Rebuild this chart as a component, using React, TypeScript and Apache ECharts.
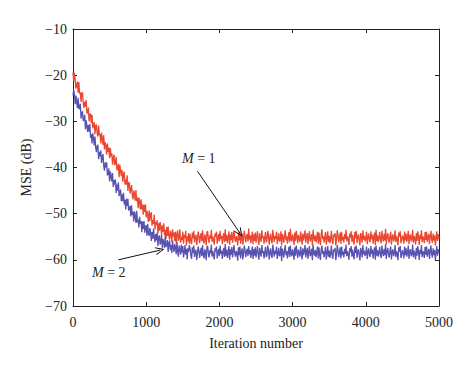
import React, { useEffect, useRef } from "react";
import * as echarts from "echarts";

const STEP = 10;
const X_TICKS = [0, 1000, 2000, 3000, 4000, 5000];
const Y_TICKS = [-70, -60, -50, -40, -30, -20, -10];

// M = 1 (red), MSE in dB sampled every 10 iterations (0 .. 5000)
const mseM1 = [
  -19.4, -21.3, -19.5, -21.0, -22.9, -22.2, -21.4, -23.8, -21.5, -24.0,
  -23.7, -25.8, -23.8, -23.8, -26.1, -27.1, -25.8, -26.8, -25.4, -28.3,
  -28.1, -27.0, -30.0, -28.6, -28.3, -30.4, -28.6, -31.5, -30.7, -30.2,
  -32.8, -30.9, -30.7, -32.6, -33.3, -30.9, -33.0, -32.8, -34.8, -32.5,
  -33.7, -35.1, -33.0, -36.1, -34.5, -35.3, -37.2, -34.8, -36.6, -35.7,
  -38.0, -35.8, -37.6, -36.9, -39.4, -37.8, -37.2, -39.5, -39.1, -37.7,
  -40.6, -40.3, -39.2, -42.1, -39.4, -40.8, -41.9, -40.5, -43.1, -41.6,
  -40.9, -43.7, -42.6, -43.7, -41.7, -45.1, -43.3, -43.3, -45.6, -44.9,
  -43.8, -46.0, -46.9, -45.0, -45.7, -47.2, -44.9, -47.3, -46.5, -48.8,
  -46.5, -47.4, -49.1, -46.9, -49.1, -48.0, -50.2, -48.1, -49.6, -48.0,
  -50.8, -49.4, -50.3, -51.8, -49.3, -51.6, -50.1, -49.7, -52.6, -51.4,
  -52.2, -50.2, -53.4, -51.8, -52.4, -51.4, -54.3, -52.1, -53.7, -51.8,
  -53.0, -54.6, -52.5, -53.9, -52.1, -54.7, -53.5, -55.5, -52.9, -54.8,
  -52.8, -54.8, -55.6, -53.7, -54.4, -56.1, -53.4, -55.0, -54.1, -55.9,
  -53.9, -56.5, -54.5, -53.6, -55.9, -55.2, -53.4, -56.3, -55.0, -55.7,
  -53.9, -56.5, -54.6, -55.3, -53.7, -56.9, -54.9, -56.0, -54.2, -56.5,
  -54.4, -55.9, -56.6, -54.1, -55.3, -53.7, -56.2, -55.0, -54.6, -56.8,
  -55.5, -53.9, -54.8, -56.4, -55.1, -54.2, -56.0, -53.6, -55.7, -56.5,
  -54.5, -55.2, -56.9, -54.0, -53.8, -55.6, -56.3, -54.7, -55.4, -53.5,
  -56.1, -54.9, -55.8, -56.7, -54.3, -55.0, -53.9, -56.5, -55.3, -54.4,
  -56.0, -53.7, -55.5, -54.8, -56.6, -55.1, -54.2, -56.2, -53.4, -55.9,
  -54.6, -56.4, -55.2, -53.8, -56.8, -54.5, -55.7, -54.0, -56.3, -55.0,
  -53.6, -55.4, -56.1, -54.9, -55.3, -56.9, -54.1, -55.8, -53.9, -56.5,
  -55.1, -54.3, -56.7, -55.5, -53.7, -54.8, -56.2, -55.0, -54.4, -56.0,
  -53.2, -55.6, -54.7, -56.4, -55.2, -53.9, -56.6, -54.5, -55.9, -54.1,
  -56.3, -55.0, -53.8, -55.7, -56.8, -54.2, -55.4, -56.1, -53.6, -55.3,
  -54.9, -56.5, -55.1, -54.0, -56.2, -55.8, -53.7, -54.6, -56.7, -55.2,
  -54.3, -55.9, -56.4, -53.5, -55.0, -56.1, -54.8, -55.5, -53.9, -56.6,
  -55.4, -54.2, -56.0, -55.7, -53.8, -56.9, -54.4, -55.1, -56.3, -54.7,
  -53.6, -55.8, -54.9, -56.5, -55.2, -54.0, -56.2, -53.3, -55.6, -56.0,
  -54.5, -55.3, -56.8, -54.1, -55.9, -53.7, -55.0, -56.4, -54.6, -55.5,
  -56.1, -53.9, -55.4, -56.7, -54.3, -55.8, -54.8, -53.6, -56.3, -55.1,
  -54.2, -56.6, -55.0, -53.8, -56.0, -55.6, -54.4, -56.9, -53.5, -55.3,
  -55.9, -54.7, -56.2, -55.2, -53.9, -56.5, -54.1, -55.7, -56.8, -54.6,
  -53.4, -55.5, -54.9, -56.3, -55.1, -54.0, -56.7, -55.4, -53.8, -56.1,
  -54.8, -56.4, -55.3, -53.7, -55.9, -56.6, -54.5, -55.0, -54.2, -56.9,
  -55.6, -53.6, -54.7, -56.2, -55.2, -54.1, -56.5, -53.9, -55.8, -55.0,
  -56.3, -54.4, -55.5, -53.5, -56.0, -54.9, -55.7, -56.8, -54.3, -55.2,
  -53.8, -56.1, -54.6, -55.9, -56.7, -54.0, -55.3, -53.7, -56.4, -55.1,
  -54.5, -55.8, -56.9, -54.2, -55.0, -56.3, -53.6, -55.6, -54.8, -56.0,
  -55.4, -53.9, -56.6, -55.1, -54.3, -55.7, -56.2, -53.8, -55.5, -54.6,
  -56.5, -55.0, -54.1, -56.8, -53.5, -55.9, -54.7, -56.1, -55.3, -54.0,
  -55.7, -56.4, -53.7, -55.2, -56.0, -54.4, -55.8, -53.3, -56.6, -54.9,
  -54.2, -55.6, -56.3, -54.8, -53.9, -56.7, -55.1, -54.5, -56.0, -55.4,
  -53.6, -56.2, -54.9, -55.5, -56.9, -54.1, -55.0, -53.8, -56.4, -55.7,
  -54.7, -55.3, -56.5, -53.9, -55.8, -54.3, -56.1, -55.2, -53.7, -56.6,
  -55.0, -54.5, -56.0, -55.6, -53.5, -56.3, -54.8, -55.4, -56.7, -54.2,
  -55.9, -53.8, -55.1, -56.8, -54.6, -55.5, -53.6, -56.2, -54.9, -55.3,
  -56.4, -54.0, -55.7, -53.9, -56.1, -55.2, -54.4, -56.6, -55.0, -53.7,
  -55.6, -56.3, -54.3, -55.8, -54.7, -56.9, -55.3, -53.8, -55.9, -54.5,
  -55.4,
];

// M = 2 (blue)
const mseM2 = [
  -24.4, -23.1, -24.2, -26.3, -24.4, -25.8, -27.1, -24.9, -27.4, -26.8,
  -26.2, -29.4, -28.2, -27.8, -29.9, -29.7, -28.6, -31.7, -29.8, -30.9,
  -32.3, -30.8, -32.2, -30.6, -33.6, -32.8, -34.8, -32.6, -33.6, -35.2,
  -33.3, -35.7, -36.7, -35.3, -35.1, -38.2, -36.6, -37.6, -36.3, -39.0,
  -37.9, -37.1, -39.7, -40.7, -38.9, -40.0, -38.9, -41.7, -41.3, -40.2,
  -43.0, -40.9, -41.8, -43.0, -41.2, -44.2, -42.7, -43.7, -42.6, -45.5,
  -43.7, -45.0, -43.2, -46.2, -45.3, -44.8, -47.3, -45.8, -47.3, -45.5,
  -48.0, -47.0, -49.1, -46.8, -48.3, -46.8, -49.3, -48.9, -48.3, -50.6,
  -48.2, -50.3, -49.6, -51.7, -49.5, -50.4, -52.0, -49.4, -51.9, -51.3,
  -53.0, -50.7, -52.2, -51.6, -54.0, -51.7, -53.3, -51.6, -54.1, -52.9,
  -52.5, -54.8, -52.2, -54.2, -54.8, -53.1, -54.0, -55.9, -54.0, -55.4,
  -53.2, -55.1, -56.2, -54.4, -55.8, -54.1, -57.0, -55.1, -54.7, -56.7,
  -56.1, -54.6, -57.4, -55.5, -56.1, -57.4, -54.8, -57.2, -56.8, -55.7,
  -58.3, -56.4, -55.8, -57.9, -56.8, -58.5, -55.8, -57.4, -58.3, -56.6,
  -57.3, -58.8, -56.1, -58.2, -59.3, -56.9, -57.7, -58.9, -56.7, -58.4,
  -57.0, -59.5, -58.4, -56.8, -58.9, -57.6, -59.9, -57.5, -58.3, -56.8,
  -57.6, -59.1, -59.8, -57.3, -58.5, -56.9, -59.4, -58.2, -57.8, -60.0,
  -58.7, -57.1, -58.0, -59.6, -58.3, -57.4, -59.2, -56.8, -58.9, -59.7,
  -57.7, -58.4, -60.1, -57.2, -57.0, -58.8, -59.5, -57.9, -58.6, -56.7,
  -59.3, -58.1, -59.0, -59.9, -57.5, -58.2, -57.1, -59.7, -58.5, -57.6,
  -59.2, -56.9, -58.7, -58.0, -59.8, -58.3, -57.4, -59.4, -56.6, -59.1,
  -57.8, -59.6, -58.4, -57.0, -60.0, -57.7, -58.9, -57.2, -59.5, -58.2,
  -56.8, -58.6, -59.3, -58.1, -58.5, -60.2, -57.3, -59.0, -57.1, -59.7,
  -58.3, -57.5, -59.9, -58.7, -56.9, -58.0, -59.4, -58.2, -57.6, -59.2,
  -57.0, -58.8, -57.9, -59.6, -58.4, -57.1, -59.8, -57.7, -59.1, -57.3,
  -59.5, -58.2, -57.0, -58.9, -60.0, -57.4, -58.6, -59.3, -56.8, -58.5,
  -58.1, -59.7, -58.3, -57.2, -59.4, -59.0, -56.9, -57.8, -59.9, -58.4,
  -57.5, -59.1, -59.6, -56.7, -58.2, -59.3, -58.0, -58.7, -57.1, -59.8,
  -58.6, -57.4, -59.2, -58.9, -57.0, -60.3, -57.6, -58.3, -59.5, -57.9,
  -56.8, -59.0, -58.1, -59.7, -58.4, -57.2, -59.4, -56.9, -58.8, -59.2,
  -57.7, -58.5, -60.0, -57.3, -59.1, -56.9, -58.2, -59.6, -57.8, -58.7,
  -59.3, -57.1, -58.6, -59.9, -57.5, -59.0, -58.0, -56.8, -59.5, -58.3,
  -57.4, -59.8, -58.2, -57.0, -59.2, -58.8, -57.6, -60.1, -56.7, -58.5,
  -59.1, -57.9, -59.4, -58.4, -57.1, -59.7, -57.3, -58.9, -60.0, -57.8,
  -56.9, -58.7, -58.1, -59.5, -58.3, -57.2, -59.9, -58.6, -57.0, -59.3,
  -58.0, -59.6, -58.5, -56.9, -59.1, -59.8, -57.7, -58.2, -57.4, -60.1,
  -58.8, -56.8, -57.9, -59.4, -58.4, -57.3, -59.7, -57.1, -59.0, -58.2,
  -59.5, -57.6, -58.7, -56.7, -59.2, -58.1, -58.9, -60.0, -57.5, -58.4,
  -57.0, -59.3, -57.8, -59.1, -59.9, -57.2, -58.5, -56.9, -59.6, -58.3,
  -57.7, -59.0, -60.1, -57.4, -58.2, -59.5, -56.8, -58.8, -58.0, -59.2,
  -58.6, -57.1, -59.8, -58.3, -57.5, -58.9, -59.4, -57.0, -58.7, -57.8,
  -59.7, -58.2, -57.3, -60.0, -56.9, -59.1, -57.9, -59.3, -58.5, -57.2,
  -58.9, -59.6, -56.9, -58.4, -59.2, -57.6, -59.0, -56.6, -59.8, -58.1,
  -57.4, -58.8, -59.5, -58.0, -57.1, -59.9, -58.3, -57.7, -59.2, -58.6,
  -56.8, -59.4, -58.1, -58.7, -60.1, -57.3, -58.2, -57.0, -59.6, -58.9,
  -57.9, -58.5, -59.7, -57.1, -59.0, -57.5, -59.3, -58.4, -56.9, -59.8,
  -58.2, -57.7, -59.2, -58.8, -56.7, -59.5, -58.0, -58.6, -59.9, -57.4,
  -59.1, -57.0, -58.3, -60.0, -57.8, -58.7, -56.8, -59.4, -58.1, -58.5,
  -59.6, -57.2, -58.9, -57.1, -59.3, -58.4, -57.6, -59.8, -58.2, -56.9,
  -58.8, -59.5, -57.5, -59.0, -57.9, -60.1, -58.5, -57.0, -59.1, -57.7,
  -58.6,
];

// annotation arrows in data coordinates: [iteration, dB]
const ARROW_M1 = [[1700, -40.8], [2280, -54.2]];
const ARROW_M2 = [[620, -60.0], [1190, -57.9]];

const FONT = "'Liberation Serif', 'DejaVu Serif', serif";
const RED = "#eb4630";
const BLUE = "#5852b0";
const ARROW_HEAD = "path://M0,10 L5,0 L10,10 L8.6,10 L5,2.6 L1.4,10 Z";

export default function App() {
  const ref = useRef<HTMLDivElement>(null);

  useEffect(() => {
    if (!ref.current) return;
    const chart = echarts.init(ref.current, null, { renderer: "svg" });
    const minus = (v: number) => String(v).replace("-", "\u2212");
    const iters = mseM1.map((_, i) => i * STEP);
    const arrowLine = (pts: number[][]) => [
      { coord: pts[0], symbol: "none" },
      { coord: pts[1], symbol: ARROW_HEAD, symbolSize: [8, 9] },
    ];
    const axisCommon = {
      axisLine: { onZero: false, lineStyle: { color: "#222", width: 1 } },
      axisTick: { inside: true, length: 4, lineStyle: { color: "#222" } },
      splitLine: { show: false },
    };

    chart.setOption({
      animation: false,
      backgroundColor: "#ffffff",
      textStyle: { fontFamily: FONT },
      grid: { left: 73, right: 35, top: 29, bottom: 64 },
      xAxis: [
        {
          type: "value",
          min: X_TICKS[0],
          max: X_TICKS[X_TICKS.length - 1],
          interval: 1000,
          name: "Iteration number",
          nameLocation: "middle",
          nameGap: 30,
          nameTextStyle: { fontFamily: FONT, fontSize: 14, color: "#222" },
          ...axisCommon,
          axisLabel: {
            fontFamily: FONT,
            fontSize: 14,
            color: "#222",
            margin: 9,
            formatter: (v: number) => String(v),
          },
        },
        {
          type: "value",
          position: "top",
          min: X_TICKS[0],
          max: X_TICKS[X_TICKS.length - 1],
          interval: 1000,
          ...axisCommon,
          axisLabel: { show: false },
        },
      ],
      yAxis: [
        {
          type: "value",
          min: Y_TICKS[0],
          max: Y_TICKS[Y_TICKS.length - 1],
          interval: 10,
          name: "MSE (dB)",
          nameLocation: "middle",
          nameGap: 40,
          nameTextStyle: { fontFamily: FONT, fontSize: 14, color: "#222" },
          ...axisCommon,
          axisLabel: {
            fontFamily: FONT,
            fontSize: 14,
            color: "#222",
            margin: 6,
            formatter: (v: number) => minus(v),
          },
        },
        {
          type: "value",
          position: "right",
          min: Y_TICKS[0],
          max: Y_TICKS[Y_TICKS.length - 1],
          interval: 10,
          ...axisCommon,
          axisLabel: { show: false },
        },
      ],
      series: [
        {
          name: "M = 1",
          type: "line",
          data: iters.map((x, i) => [x, mseM1[i]]),
          showSymbol: false,
          symbol: "none",
          lineStyle: { color: RED, width: 1.3 },
          z: 2,
          markLine: {
            silent: true,
            animation: false,
            label: { show: false },
            lineStyle: { color: "#111", width: 1, type: "solid" },
            data: [arrowLine(ARROW_M1), arrowLine(ARROW_M2)],
          },
        },
        {
          name: "M = 2",
          type: "line",
          data: iters.map((x, i) => [x, mseM2[i]]),
          showSymbol: false,
          symbol: "none",
          lineStyle: { color: BLUE, width: 1.3 },
          z: 3,
        },
      ],
      graphic: [
        {
          type: "text",
          x: 182,
          y: 151,
          style: {
            text: "{i|M} = 1",
            fontFamily: FONT,
            fontSize: 14,
            fill: "#222",
            rich: { i: { fontStyle: "italic", fontFamily: FONT, fontSize: 14, fill: "#222" } },
          },
        },
        {
          type: "text",
          x: 92,
          y: 265,
          style: {
            text: "{i|M} = 2",
            fontFamily: FONT,
            fontSize: 14,
            fill: "#222",
            rich: { i: { fontStyle: "italic", fontFamily: FONT, fontSize: 14, fill: "#222" } },
          },
        },
      ],
    });

    return () => chart.dispose();
  }, []);

  return (
    <div
      ref={ref}
      style={{ position: "fixed", left: 0, top: 0, width: 474, height: 370, background: "#fff" }}
    />
  );
}
